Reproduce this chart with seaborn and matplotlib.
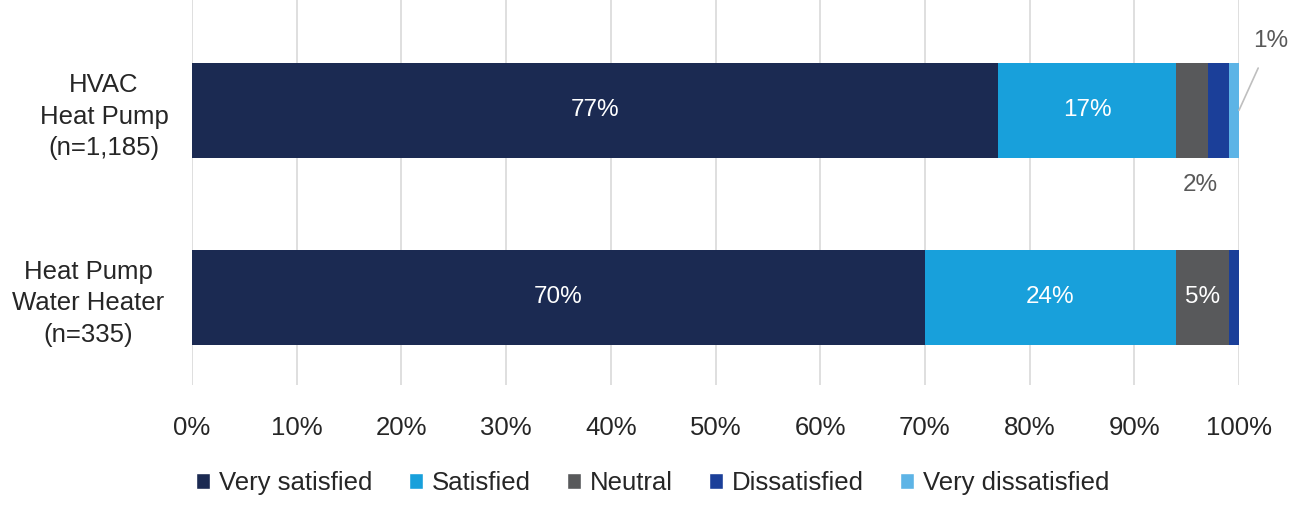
import pandas as pd
import numpy as np
import matplotlib.pyplot as plt
import seaborn as sns
from matplotlib.patches import Patch

# Data (percent of respondents)
groups = ['HVAC\nHeat Pump\n(n=1,185)', 'Heat Pump\nWater Heater\n(n=335)']
levels = ['Very satisfied', 'Satisfied', 'Neutral', 'Dissatisfied', 'Very dissatisfied']
very_satisfied = [77, 70]
satisfied = [17, 24]
neutral = [3, 5]
dissatisfied = [2, 1]
very_dissatisfied = [1, 0]
colors = ['#1b2a52', '#18a0db', '#58595b', '#1b3f99', '#5db4e6']

df = pd.DataFrame({'group': groups,
                   'Very satisfied': very_satisfied,
                   'Satisfied': satisfied,
                   'Neutral': neutral,
                   'Dissatisfied': dissatisfied,
                   'Very dissatisfied': very_dissatisfied})

# cumulative totals, so bars can be stacked by overlapping
cum = df[levels].cumsum(axis=1)

sns.set_style('white')
plt.rcParams['font.family'] = ['Liberation Sans', 'DejaVu Sans']

fig = plt.figure(figsize=(12.98, 5.09), dpi=100)
ax = fig.add_axes([192 / 1298, 1 - 385 / 509, 1047 / 1298, 385 / 509])

# draw widest (cumulative) first, narrower on top
for lvl, c in reversed(list(zip(levels, colors))):
    sns.barplot(x=cum[lvl], y=df['group'], color=c, orient='h',
                width=0.51, ax=ax, saturation=1, linewidth=0)

ax.set_xlim(0, 100)
ax.set_ylim(1.47, -0.59)
ax.set_xticks(np.arange(0, 101, 10))
ax.set_xticklabels([f'{t}%' for t in range(0, 101, 10)], fontsize=18.5, color='#262626')
ax.tick_params(axis='x', length=0, pad=22)
ax.tick_params(axis='y', length=0, pad=0)
ax.set_yticks([0, 1])
ax.set_yticklabels(groups, fontsize=18.5, color='#262626', ha='center', linespacing=1.4)
# label centres (axes fraction)
for lab, xc in zip(ax.get_yticklabels(), [(104 - 192) / 1047, (88 - 192) / 1047]):
    lab.set_x(xc)
ax.set_xlabel('')
ax.set_ylabel('')
ax.grid(axis='x', color='#d9d9d9', lw=1.2)
ax.set_axisbelow(True)
for s in ax.spines.values():
    s.set_visible(False)

# labels inside segments
for i in range(len(groups)):
    left = 0
    for lvl in levels:
        v = df.loc[i, lvl]
        if v >= 5:
            ax.text(left + v / 2, i, f'{v}%', ha='center', va='center',
                    color='white', fontsize=17.5)
        left += v

# small segments of HVAC labelled outside
ax.text(cum.loc[0, 'Neutral'] - 0.7, 0.40, f'{dissatisfied[0]}%', ha='center', va='center',
        color='#595959', fontsize=17.5)
ax.annotate(f'{very_dissatisfied[0]}%', xy=(cum.loc[0, 'Very dissatisfied'], 0.0),
            xytext=(103.0, -0.37), ha='center', va='center', color='#595959',
            fontsize=17.5, annotation_clip=False,
            arrowprops=dict(arrowstyle='-', color='#bfbfbf', lw=1.2,
                            shrinkA=10, shrinkB=0))

handles = [Patch(facecolor=c, label=l) for l, c in zip(levels, colors)]
fig.legend(handles=handles, loc='center', bbox_to_anchor=(653 / 1298, 1 - 483 / 509),
           ncol=5, frameon=False, fontsize=18.5, handlelength=0.55, handleheight=0.55,
           handletextpad=0.35, columnspacing=1.4, labelcolor='#262626')

plt.savefig('out.png', dpi=100)
